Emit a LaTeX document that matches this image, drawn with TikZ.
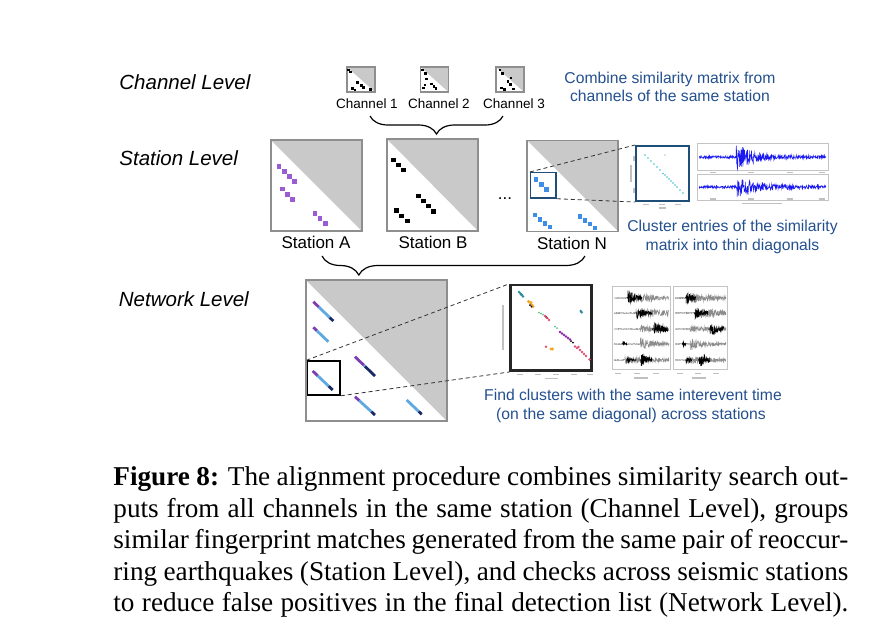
\documentclass[tikz,border=0pt]{standalone}
\usepackage{fontspec}
\setmainfont{Liberation Serif}
\setsansfont{Liberation Sans}
\usetikzlibrary{decorations.pathreplacing,calc}
\definecolor{trigrey}{HTML}{C9C9C9}
\definecolor{matedge}{HTML}{8E8E8E}
\definecolor{dotpurple}{HTML}{9B5BD2}
\definecolor{dotblue}{HTML}{3D8EE6}
\definecolor{navybox}{HTML}{1F4E79}
\definecolor{txtblue}{HTML}{24508F}
\definecolor{insetcyan}{HTML}{3EBFCF}
\definecolor{wblue}{HTML}{1A1AF0}
\definecolor{strpurple}{HTML}{7B3FB0}
\definecolor{strlight}{HTML}{5FA8E0}
\definecolor{strnavy}{HTML}{1B2A66}
\definecolor{cteal}{HTML}{2A8A9A}
\definecolor{corange}{HTML}{F5A623}
\definecolor{cgreen}{HTML}{5CC28F}
\definecolor{cpink}{HTML}{E0506E}
\definecolor{cpurple}{HTML}{8E1FA8}
\definecolor{panelgrey}{HTML}{C4C4C4}
\definecolor{ticky}{HTML}{C0C0C0}
\newcommand\wv[9]{\draw[#9] plot[domain=#1:#2,samples=#7] (\x,{#3+(#8+(\x>#4)*#5*exp(-max(\x-#4,0)/#6))*rand});}
\newcommand\streak[6]{%
  \draw[strk,strpurple] (#1,#2) -- ($(#1,#2)!#5!(#3,#4)$);
  \draw[strk,strlight] ($(#1,#2)!#5!(#3,#4)$) -- ($(#1,#2)!#6!(#3,#4)$);
  \draw[strk,strnavy] ($(#1,#2)!#6!(#3,#4)$) -- (#3,#4);}
\begin{document}
\begin{tikzpicture}[x=0.5pt,y=-0.5pt,
  mat/.style={draw=matedge,line width=0.6pt,fill=white,inner sep=0pt,
    path picture={\fill[trigrey] (path picture bounding box.north west) -- (path picture bounding box.north east) -- (path picture bounding box.south east) -- cycle;}},
  lvl/.style={anchor=base west,inner sep=0pt,font=\sffamily\itshape\fontsize{10.25}{12}\selectfont},
  chlab/.style={anchor=base,inner sep=0pt,font=\sffamily\fontsize{6.75}{8}\selectfont},
  stlab/.style={anchor=base,inner sep=0pt,font=\sffamily\fontsize{8.5}{10}\selectfont},
  bluetxt/.style={anchor=base,inner sep=0pt,text=txtblue,font=\sffamily\fontsize{7.85}{9}\selectfont},
  capline/.style={anchor=base west,inner sep=0pt,font=\fontsize{13.6}{16}\selectfont},
  hlbox/.style={draw,inner sep=0pt},
  dashln/.style={draw=black!80,line width=0.4pt,dash pattern=on 2pt off 1.5pt},
  brc/.style={decorate,line width=0.6pt},
  strk/.style={line width=1.4pt},
  wvline/.style={line width=0.25pt},
  gw/.style={line width=0.25pt,black!45},
  bw/.style={line width=0.3pt,black},
  panel/.style={draw=panelgrey,line width=0.35pt,inner sep=0pt},
  tick/.style={ticky,line width=0.6pt}]
\useasboundingbox (0,0) rectangle (887,628);
\fill[white] (0,0) rectangle (887,628);

% level labels
\node[lvl] (lvlch) at (119,89) {Channel Level};
\node[lvl] (lvlst) at (119,165) {Station Level};
\node[lvl] (lvlnet) at (118.5,306.5) {Network Level};

% ---------- channel level ----------
\node[mat,minimum width=14pt,minimum height=12.5pt] (ch1) at (361,79.5) {};
\node[mat,minimum width=14pt,minimum height=12.5pt] (ch2) at (434.5,79.5) {};
\node[mat,minimum width=14pt,minimum height=12.5pt] (ch3) at (510,79.5) {};
\foreach \x/\y in {348.5/70,350.5/72,357.5/82.5,361.5/85.5,363.5/87.5,352.5/88.5,355/90,370.5/89.5}
  \fill (\x,\y) ++(-1.2,-1.2) rectangle ++(2.4,2.4);
\foreach \x/\y in {422.5/70,425.5/73.5,426.5/79,425/85,423.5/88,431.5/84,434/86.5,436/88.5}
  \fill (\x,\y) ++(-1.2,-1.2) rectangle ++(2.4,2.4);
\foreach \x/\y in {500/70,502.5/73.5,508/81.5,510.5/84.5,501.5/88,504.5/89.5,513.5/89,511/78}
  \fill (\x,\y) ++(-1.2,-1.2) rectangle ++(2.4,2.4);
\node[chlab] (ch1l) at (367,108) {Channel 1};
\node[chlab] (ch2l) at (439,108) {Channel 2};
\node[chlab] (ch3l) at (514,108) {Channel 3};
\coordinate (chbl) at (370,116);
\coordinate (chbr) at (503,116);
\draw[brc,decoration={brace,mirror,amplitude=9pt}] (chbl) -- (chbr);
\node[bluetxt] (comb1) at (670,83.3) {Combine similarity matrix from};
\node[bluetxt] (comb2) at (670,101.7) {channels of the same station};

% ---------- station level ----------
\node[mat,minimum width=45.5pt,minimum height=45.5pt] (stA) at (316.5,185.5) {};
\node[mat,minimum width=45.5pt,minimum height=46pt] (stB) at (432.5,185) {};
\node[mat,minimum width=45.5pt,minimum height=45.5pt] (stN) at (572.5,185.75) {};
\foreach \x/\y in {279/166.7,284.3/171.7,289.3/176.7,294.3/181.7,282.7/189,287.7/194.3,292.7/199.3,315/213.3,320/218.3,325.3/223.3}
  \fill[dotpurple] (\x,\y) ++(-2.3,-2.3) rectangle ++(4.6,4.6);
\foreach \x/\y in {393.3/160,398.3/165,403.3/170,418.7/196,423.7/201,428.7/206,433.7/211.3,396.7/210.7,401.7/216,407.7/221}
  \fill[black] (\x,\y) ++(-2.4,-2.4) rectangle ++(4.8,4.8);
\foreach \x/\y in {536/179.3,541.7/184.3,546.7/189.3,535/215,540/219.5,545/223.5,550/227,580/216.5,585/220.3,590/224,595/228}
  \fill[dotblue] (\x,\y) ++(-2.3,-2.3) rectangle ++(4.6,4.6);
\node[hlbox,draw=navybox,line width=0.75pt,minimum width=12.65pt,minimum height=12.65pt] (boxN) at (543.35,185.35) {};
\node[inner sep=0pt,font=\sffamily\fontsize{8.5}{10}\selectfont] (dots) at (505,199) {...};
\node[stlab] (stAl) at (316,248.3) {Station A};
\node[stlab] (stBl) at (433,248.3) {Station B};
\node[stlab] (stNl) at (572,249.5) {Station N};
\coordinate (stbl) at (322,256);
\coordinate (stbr) at (585,256);
\draw[brc,decoration={brace,mirror,amplitude=9.5pt,aspect=0.14}] (stbl) -- (stbr);

% inset 1 (zoomed similarity matrix)
\node[hlbox,draw=navybox,line width=1pt,fill=white,minimum width=26.5pt,minimum height=27.5pt] (ins1) at (662.5,173.5) {};
\draw[dashln] (boxN.north west) -- (ins1.north west);
\draw[dashln] (boxN.south east) -- (ins1.south west);
\foreach \x/\y in {645/155,648/158,651/161,654/164,657/167,660/170,663/173.5,665/175,667/177,669/179,671/181,673/183,675/185,677/187,680/190,683/193}
  \fill[insetcyan] (\x,\y) circle (0.9);
\fill[black!50] (665,155) circle (0.7);
\foreach \x in {646,662,678} \draw[tick] (\x-3,204.5) -- (\x+3,204.5);
\draw[tick] (659,208) -- (666,208);
\draw[tick] (631,165) -- (631,182);
\draw[tick] (634,156) -- (634,161);
\draw[tick] (634,188) -- (634,193);

% waveform panel 1
\node[panel,minimum width=65.5pt,minimum height=13.5pt] (wp1) at (762.5,156.5) {};
\node[panel,minimum width=65.5pt,minimum height=13pt] (wp2) at (762.5,187) {};
\pgfmathsetseed{7}
\wv{699}{826}{157}{736}{12}{20}{420}{1.3}{wblue,wvline}
\wv{699}{826}{187}{737}{10}{22}{420}{1.3}{wblue,wvline}
\foreach \x in {713,751,790,822} \draw[tick] (\x-3,172.5) -- (\x+3,172.5);
\foreach \x in {713,751,790,822} \draw[tick] (\x-3,199) -- (\x+3,199);
\draw[tick] (742,203.5) -- (782,203.5);
\node[bluetxt] (clu1) at (732.5,231) {Cluster entries of the similarity};
\node[bluetxt] (clu2) at (732.5,250) {matrix into thin diagonals};

% ---------- network level ----------
\node[mat,minimum width=70.5pt,minimum height=70.5pt] (net) at (376.5,350.5) {};
\streak{313.3}{301.7}{333.3}{321}{0.28}{0.82}
\streak{313.3}{327.3}{328.3}{341.7}{0.25}{1}
\streak{355}{356.7}{375}{376}{0.45}{0.5}
\streak{312.7}{371}{332.7}{390}{0.25}{0.8}
\streak{355}{396.7}{375}{415}{0.22}{0.82}
\streak{406.7}{400}{421.7}{414.3}{0}{0.8}
\node[hlbox,draw=black,line width=0.8pt,minimum width=16.35pt,minimum height=17pt] (boxNet) at (323.65,378) {};

% inset 2
\node[hlbox,draw=black!85,line width=1.25pt,fill=white,minimum width=40.5pt,minimum height=42.85pt] (ins2) at (551.2,327.85) {};
\draw[dashln] (boxNet.north west) -- (ins2.north west);
\draw[dashln] (boxNet.south east) -- (ins2.south west);
\foreach \x/\y in {519/292,520.5/293.5,522/295,523/296.5,521/294.5,580.7/311,581.7/312.3}
  \fill[cteal] (\x,\y) circle (1.4);
\foreach \x/\y in {528.5/301.5,530.5/303,532/305,531/302.5,533/306.5,551/349,552.5/349}
  \fill[corange] (\x,\y) circle (1.7);
\foreach \x/\y in {530/305,531.5/306.5,546/316.8,547.5/318,571/341,573/342.5}
  \fill[black] (\x,\y) circle (1);
\foreach \x/\y in {539/312.5,541/313.5,543/314.5,555/326.5,557/328}
  \fill[cgreen] (\x,\y) circle (1);
\foreach \x/\y in {560/332,562/333.5,564/335,566/336.5,568/338,570/339.5}
  \fill[cpurple] (\x,\y) circle (1.3);
\foreach \x/\y in {545/316,547/318,549/320,575/346.5,577/348,578.5/347,580/350,582/352,584/354,586/356,589.5/359.5,546/346.7}
  \fill[cpink] (\x,\y) circle (1.4);
\foreach \x in {520,538,556,574,590} \draw[tick] (\x-3,374.5) -- (\x+3,374.5);
\draw[tick] (545,378.5) -- (558,378.5);
\draw[tick] (503,305) -- (503,350);

% waveform panel 2
\node[panel,minimum width=29.2pt,minimum height=41.3pt] (wq1) at (641.5,328) {};
\node[panel,minimum width=27pt,minimum height=41.3pt] (wq2) at (700,328) {};
\pgfmathsetseed{11}
\wv{614}{669}{298}{628}{6}{25}{200}{0.5}{gw}
\wv{627}{642}{298}{628}{8}{7}{60}{0.3}{bw}
\wv{614}{669}{313}{636}{5}{40}{200}{0.5}{gw}
\wv{636}{652}{313}{637}{6}{8}{60}{0.3}{bw}
\wv{614}{669}{329}{640}{3}{30}{200}{0.5}{gw}
\wv{652}{668}{329}{654}{8}{9}{60}{0.3}{bw}
\wv{614}{669}{344}{640}{6}{14}{200}{0.5}{gw}
\wv{622}{627}{344}{623}{3}{2}{20}{0.3}{bw}
\wv{614}{669}{360}{625}{4}{30}{200}{0.5}{gw}
\wv{626}{636}{360}{627}{3}{5}{40}{0.3}{bw}
\wv{640}{652}{360}{641}{7}{7}{50}{0.3}{bw}
\wv{675}{726}{298}{686}{6}{25}{200}{0.5}{gw}
\wv{685}{696}{298}{686}{7}{6}{50}{0.3}{bw}
\wv{675}{726}{313}{695}{5}{30}{200}{0.5}{gw}
\wv{694}{708}{313}{695}{6}{9}{60}{0.3}{bw}
\wv{675}{726}{329}{690}{3}{30}{200}{0.5}{gw}
\wv{708}{724}{329}{710}{7}{10}{60}{0.3}{bw}
\wv{675}{726}{344}{690}{6}{14}{200}{0.5}{gw}
\wv{682}{686}{344}{683}{3}{2}{20}{0.3}{bw}
\wv{675}{726}{360}{686}{4}{25}{200}{0.5}{gw}
\wv{685}{692}{360}{686}{3}{4}{30}{0.3}{bw}
\wv{698}{710}{360}{699}{7}{7}{50}{0.3}{bw}
\foreach \x in {618,637,656,680,698,716} \draw[tick] (\x-3,373.5) -- (\x+3,373.5);
\draw[tick] (634,378) -- (648,378);
\draw[tick] (692,378) -- (706,378);
\node[bluetxt] (find1) at (633,400.7) {Find clusters with the same interevent time};
\node[bluetxt] (find2) at (631,419.3) {(on the same diagonal) across stations};

% ---------- caption ----------
\node[capline] (cap1) at (113,485.5) {\makebox[367.5pt][s]{\textbf{Figure 8:} The alignment procedure combines similarity search out-}};
\node[capline] (cap2) at (113,517) {\makebox[367.5pt][s]{puts from all channels in the same station (Channel Level), groups}};
\node[capline] (cap3) at (113,548.5) {\makebox[367.5pt][s]{similar fingerprint matches generated from the same pair of reoccur-}};
\node[capline] (cap4) at (113,580) {\makebox[367.5pt][s]{ring earthquakes (Station Level), and checks across seismic stations}};
\node[capline] (cap5) at (113,611.5) {\makebox[367.5pt][s]{to reduce false positives in the final detection list (Network Level).}};
\end{tikzpicture}
\end{document}
